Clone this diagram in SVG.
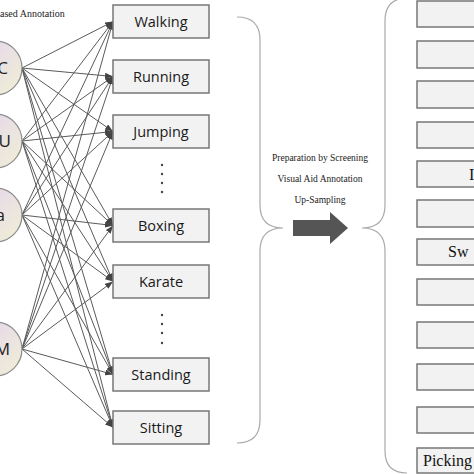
<svg xmlns="http://www.w3.org/2000/svg" width="474" height="474" viewBox="0 0 474 474">
<defs>
<linearGradient id="cg" x1="0" y1="0" x2="1" y2="1">
<stop offset="0" stop-color="#e4d2f0"/>
<stop offset="1" stop-color="#f0f0d4"/>
</linearGradient>
<marker id="ah" markerUnits="userSpaceOnUse" markerWidth="8" markerHeight="6" refX="8" refY="3" orient="auto">
<path d="M0,0 L8,3 L0,6 Z" fill="#444"/>
</marker>
<style>
.circ{fill:url(#cg);stroke:#8a8a8a;stroke-width:1.2}
.clab{font-family:"Open Sans","Liberation Sans",sans-serif;font-size:17px;fill:#222;text-anchor:end}
.box{fill:#f2f2f2;stroke:#777;stroke-width:1.5}
.blab{font-family:"Open Sans","Liberation Sans",sans-serif;font-size:14.5px;fill:#1a1a1a;text-anchor:middle}
.rbox{fill:#f2f2f2;stroke:#777;stroke-width:1.5}
.rlab{font-family:"Liberation Serif","Times New Roman",serif;font-size:16px;fill:#111}
.note{font-family:"Liberation Serif","Times New Roman",serif;font-size:9.5px;fill:#222;text-anchor:middle}
.conn line{stroke:#5a5a5a;stroke-width:1;marker-end:url(#ah)}
.brace{fill:none;stroke:#aaa;stroke-width:1.2}
.dot{fill:#444}
</style>
</defs>
<rect width="474" height="474" fill="#fff"/>
<text x="0" y="17" font-family="Liberation Serif,Times New Roman,serif" font-size="10" fill="#222">ased Annotation</text>

<g id="connectors" class="conn">
<line x1="22" y1="68" x2="113" y2="21.5"/><line x1="22" y1="68" x2="113" y2="76.5"/><line x1="22" y1="68" x2="113" y2="131.5"/><line x1="22" y1="68" x2="113" y2="225.5"/><line x1="22" y1="68" x2="113" y2="281.5"/><line x1="22" y1="68" x2="113" y2="374.5"/><line x1="22" y1="68" x2="113" y2="427.5"/>
<line x1="22" y1="141" x2="113" y2="21.5"/><line x1="22" y1="141" x2="113" y2="76.5"/><line x1="22" y1="141" x2="113" y2="131.5"/><line x1="22" y1="141" x2="113" y2="225.5"/><line x1="22" y1="141" x2="113" y2="281.5"/><line x1="22" y1="141" x2="113" y2="374.5"/><line x1="22" y1="141" x2="113" y2="427.5"/>
<line x1="22" y1="215" x2="113" y2="21.5"/><line x1="22" y1="215" x2="113" y2="76.5"/><line x1="22" y1="215" x2="113" y2="131.5"/><line x1="22" y1="215" x2="113" y2="225.5"/><line x1="22" y1="215" x2="113" y2="281.5"/><line x1="22" y1="215" x2="113" y2="374.5"/><line x1="22" y1="215" x2="113" y2="427.5"/>
<line x1="22" y1="349" x2="113" y2="21.5"/><line x1="22" y1="349" x2="113" y2="76.5"/><line x1="22" y1="349" x2="113" y2="131.5"/><line x1="22" y1="349" x2="113" y2="225.5"/><line x1="22" y1="349" x2="113" y2="281.5"/><line x1="22" y1="349" x2="113" y2="374.5"/><line x1="22" y1="349" x2="113" y2="427.5"/>
</g>

<g id="node-c"><circle class="circ" cx="-5" cy="68" r="27"/><text class="clab" x="8" y="74">C</text></g>
<g id="node-u"><circle class="circ" cx="-5" cy="141" r="27"/><text class="clab" x="11" y="147">U</text></g>
<g id="node-a"><circle class="circ" cx="-5" cy="215" r="27"/><text class="clab" x="5" y="221">a</text></g>
<g id="node-m"><circle class="circ" cx="-5" cy="349" r="27"/><text class="clab" x="10" y="355">M</text></g>

<g id="box-walking"><rect class="box" x="113" y="5" width="96" height="33"/><text class="blab" x="161" y="26.5">Walking</text></g>
<g id="box-running"><rect class="box" x="113" y="60" width="96" height="33"/><text class="blab" x="161" y="81.5">Running</text></g>
<g id="box-jumping"><rect class="box" x="113" y="115" width="96" height="33"/><text class="blab" x="161" y="136.5">Jumping</text></g>
<g id="box-boxing"><rect class="box" x="113" y="209" width="96" height="33"/><text class="blab" x="161" y="230.5">Boxing</text></g>
<g id="box-karate"><rect class="box" x="113" y="265" width="96" height="33"/><text class="blab" x="161" y="286.5">Karate</text></g>
<g id="box-standing"><rect class="box" x="113" y="358" width="96" height="33"/><text class="blab" x="161" y="379.5">Standing</text></g>
<g id="box-sitting"><rect class="box" x="113" y="411" width="96" height="33"/><text class="blab" x="161" y="432.5">Sitting</text></g>

<g id="dots1"><circle class="dot" cx="162" cy="165" r="1.2"/><circle class="dot" cx="162" cy="174" r="1.2"/><circle class="dot" cx="162" cy="183" r="1.2"/><circle class="dot" cx="162" cy="192" r="1.2"/></g>
<g id="dots2"><circle class="dot" cx="162" cy="315" r="1.2"/><circle class="dot" cx="162" cy="324" r="1.2"/><circle class="dot" cx="162" cy="333" r="1.2"/><circle class="dot" cx="162" cy="343" r="1.2"/></g>

<g id="brace-left"><path class="brace" d="M237,17 Q260,17 260,40 L260,205 Q260,228 283,228 Q260,228 260,251 L260,420 Q260,443 237,443"/></g>
<g id="brace-right"><path class="brace" d="M408,-2 Q385,-2 385,21 L385,205 Q385,228 362,228 Q385,228 385,251 L385,451 Q385,473 407,473"/></g>

<g id="process">
<text class="note" x="320" y="161">Preparation by Screening</text>
<text class="note" x="320" y="182">Visual Aid Annotation</text>
<text class="note" x="320" y="203">Up-Sampling</text>
<polygon points="293,220 330,220 330,212 348,228 330,244 330,236 293,236" fill="#555"/>
</g>

<g id="right-boxes">
<rect class="rbox" x="417" y="1" width="70" height="26"/>
<rect class="rbox" x="417" y="41" width="70" height="27"/>
<rect class="rbox" x="417" y="81" width="70" height="27"/>
<rect class="rbox" x="417" y="122" width="70" height="26"/>
<g id="rbox-5"><rect class="rbox" x="417" y="161" width="70" height="26"/><text class="rlab" x="469" y="180">I</text></g>
<rect class="rbox" x="417" y="200" width="70" height="27"/>
<g id="rbox-7"><rect class="rbox" x="417" y="239" width="70" height="26"/><text class="rlab" x="448" y="257">Sw</text></g>
<rect class="rbox" x="417" y="279" width="70" height="26"/>
<rect class="rbox" x="417" y="322" width="70" height="26"/>
<rect class="rbox" x="417" y="364" width="70" height="26"/>
<rect class="rbox" x="417" y="407" width="70" height="26"/>
<g id="rbox-12"><rect class="rbox" x="417" y="448" width="70" height="25"/><text class="rlab" x="423" y="466">Picking</text></g>
</g>
</svg>
